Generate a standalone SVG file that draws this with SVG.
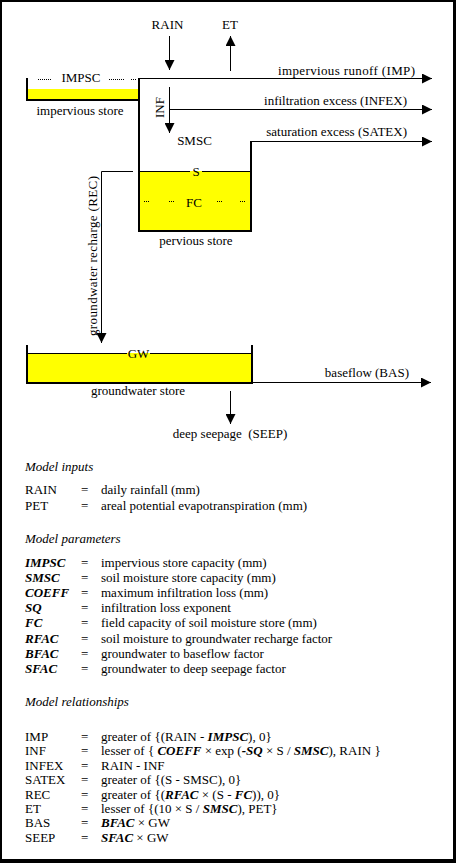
<svg xmlns="http://www.w3.org/2000/svg" width="456" height="863" viewBox="0 0 456 863">
<style>
.t{font-family:"Liberation Serif","Times New Roman",serif;font-size:13px;fill:#000}
.m{text-anchor:middle}
.e{text-anchor:end}
.i{font-style:italic}
.b{font-weight:bold;font-style:italic}
.ln{stroke:#000;stroke-width:1;fill:none}
.wall{stroke:#000;stroke-width:2;fill:none}
.yel{fill:#ffff00}
.dot{stroke:#000;stroke-width:1;stroke-dasharray:1 1;fill:none}
</style>
<defs>
<marker id="ah" viewBox="0 0 10 10" refX="10" refY="5" markerWidth="10" markerHeight="10" markerUnits="userSpaceOnUse" orient="auto">
<path d="M0,0 L10,5 L0,10 z" fill="#000"/>
</marker>
</defs>
<rect x="0" y="0" width="456" height="863" fill="#000"/>
<rect x="2" y="2" width="451" height="857" fill="#fff"/>

<g id="impervious-store">
<rect class="yel" x="28" y="89" width="110" height="10"/>
<path class="wall" d="M27,78 V100 H139"/>
<path class="dot" d="M38,79.5 H52 M109,79.5 H124 M131,79.5 H137"/>
<text class="t m" x="81" y="82">IMPSC</text>
<text class="t m" x="80" y="114.5">impervious store</text>
</g>

<g id="pervious-store">
<rect class="yel" x="140" y="171" width="110" height="59"/>
<path class="wall" d="M139,78 V231 H251 V141"/>
<path class="ln" d="M140,171.5 H190 M202,171.5 H250"/>
<text class="t m" x="196" y="176">S</text>
<path class="dot" d="M144,201.5 H150 M169,201.5 H175 M217,201.5 H222 M240,201.5 H246"/>
<text class="t m" x="194" y="206.5">FC</text>
<text class="t m" x="194.5" y="145">SMSC</text>
<text class="t m" x="196" y="245">pervious store</text>
</g>

<g id="groundwater-store">
<rect class="yel" x="28" y="353" width="223" height="29"/>
<path class="wall" d="M27,345 V383 H252 V345"/>
<path class="ln" d="M28,353.5 H127 M150,353.5 H251"/>
<text class="t m" x="138.5" y="358">GW</text>
<text class="t m" x="138" y="395">groundwater store</text>
</g>

<g id="inputs">
<text class="t m" x="167.5" y="29">RAIN</text>
<text class="t m" x="230" y="29">ET</text>
</g>

<g id="connectors">
<path class="ln" d="M169.5,36 V70" marker-end="url(#ah)"/>
<path class="ln" d="M230.5,71 V36" marker-end="url(#ah)"/>
<path class="ln" d="M140,78.5 H432" marker-end="url(#ah)"/>
<text class="t" x="278" y="75" textLength="137" lengthAdjust="spacing">impervious runoff (IMP)</text>
<path class="ln" d="M169.5,87 V133" marker-end="url(#ah)"/>
<text class="t m" transform="translate(164,107.5) rotate(-90)">INF</text>
<path class="ln" d="M170,109.5 H432" marker-end="url(#ah)"/>
<text class="t e" x="407" y="105">infiltration excess (INFEX)</text>
<path class="ln" d="M251,141.5 H432" marker-end="url(#ah)"/>
<text class="t e" x="407" y="136">saturation excess (SATEX)</text>
<path class="ln" d="M133,171.5 H101.5 V343" marker-end="url(#ah)"/>
<text class="t" transform="translate(97,336) rotate(-90)" textLength="160" lengthAdjust="spacing">groundwater recharge (REC)</text>
<path class="ln" d="M252,382.5 H431" marker-end="url(#ah)"/>
<text class="t e" x="409" y="376.5">baseflow (BAS)</text>
<path class="ln" d="M230.5,391 V424" marker-end="url(#ah)"/>
<text class="t m" x="230" y="438" xml:space="preserve">deep seepage  (SEEP)</text>
</g>

<g id="legend">
<text class="t i" x="25" y="470.5">Model inputs</text>
<text class="t" x="25" y="494">RAIN</text><text class="t" x="81" y="494">=</text><text class="t" x="101" y="494">daily rainfall (mm)</text>
<text class="t" x="25" y="509.5">PET</text><text class="t" x="81" y="509.5">=</text><text class="t" x="101" y="509.5">areal potential evapotranspiration (mm)</text>

<text class="t i" x="25" y="542.5">Model parameters</text>
<text class="t b" x="25" y="567.3">IMPSC</text><text class="t" x="81" y="567.3">=</text><text class="t" x="101" y="567.3">impervious store capacity (mm)</text>
<text class="t b" x="25" y="582.3">SMSC</text><text class="t" x="81" y="582.3">=</text><text class="t" x="101" y="582.3">soil moisture store capacity (mm)</text>
<text class="t b" x="25" y="597.3">COEFF</text><text class="t" x="81" y="597.3">=</text><text class="t" x="101" y="597.3">maximum infiltration loss (mm)</text>
<text class="t b" x="25" y="612.3">SQ</text><text class="t" x="81" y="612.3">=</text><text class="t" x="101" y="612.3">infiltration loss exponent</text>
<text class="t b" x="25" y="627.4">FC</text><text class="t" x="81" y="627.4">=</text><text class="t" x="101" y="627.4">field capacity of soil moisture store (mm)</text>
<text class="t b" x="25" y="642.5">RFAC</text><text class="t" x="81" y="642.5">=</text><text class="t" x="101" y="642.5">soil moisture to groundwater recharge factor</text>
<text class="t b" x="25" y="657.6">BFAC</text><text class="t" x="81" y="657.6">=</text><text class="t" x="101" y="657.6">groundwater to baseflow factor</text>
<text class="t b" x="25" y="672.7">SFAC</text><text class="t" x="81" y="672.7">=</text><text class="t" x="101" y="672.7">groundwater to deep seepage factor</text>

<text class="t i" x="25" y="706">Model relationships</text>
<text class="t" x="25" y="741">IMP</text><text class="t" x="81" y="741">=</text><text class="t" x="101" y="741">greater of {(RAIN - <tspan class="b">IMPSC</tspan>), 0}</text>
<text class="t" x="25" y="755.4">INF</text><text class="t" x="81" y="755.4">=</text><text class="t" x="101" y="755.4">lesser of { <tspan class="b">COEFF</tspan> × exp (<tspan class="b">-SQ</tspan> × S / <tspan class="b">SMSC</tspan>), RAIN }</text>
<text class="t" x="25" y="769.8">INFEX</text><text class="t" x="81" y="769.8">=</text><text class="t" x="101" y="769.8">RAIN - INF</text>
<text class="t" x="25" y="784.2">SATEX</text><text class="t" x="81" y="784.2">=</text><text class="t" x="101" y="784.2">greater of {(S - SMSC), 0}</text>
<text class="t" x="25" y="798.6">REC</text><text class="t" x="81" y="798.6">=</text><text class="t" x="101" y="798.6">greater of {(<tspan class="b">RFAC</tspan> × (S - <tspan class="b">FC</tspan>)), 0}</text>
<text class="t" x="25" y="813">ET</text><text class="t" x="81" y="813">=</text><text class="t" x="101" y="813">lesser of {(10 × S / <tspan class="b">SMSC</tspan>), PET}</text>
<text class="t" x="25" y="827.4">BAS</text><text class="t" x="81" y="827.4">=</text><text class="t" x="101" y="827.4"><tspan class="b">BFAC</tspan> × GW</text>
<text class="t" x="25" y="841.8">SEEP</text><text class="t" x="81" y="841.8">=</text><text class="t" x="101" y="841.8"><tspan class="b">SFAC</tspan> × GW</text>
</g>
</svg>
